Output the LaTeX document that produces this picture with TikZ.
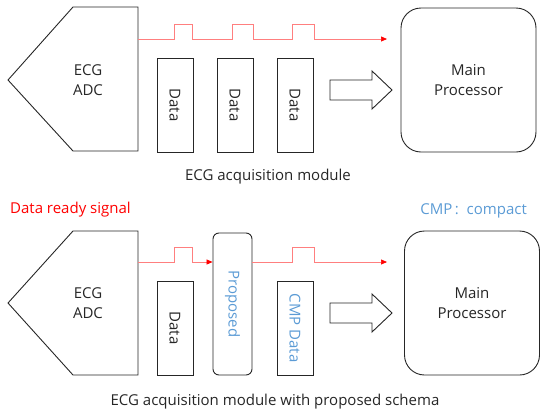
\documentclass[tikz,border=0pt]{standalone}
\usepackage{fontspec}
\setmainfont{Open Sans}
\usetikzlibrary{arrows.meta}
\definecolor{sigred}{HTML}{FF7F7F}
\definecolor{txtblue}{HTML}{5B9BD5}
\begin{document}
\begin{tikzpicture}[x=1pt,y=-1pt,
  outline/.style={draw=black!85,line width=0.9pt},
  lbl/.style={font=\fontsize{15}{20.5}\selectfont,align=center,inner sep=0pt,text=black!85},
  boxlbl/.style={font=\fontsize{15}{18}\selectfont,inner sep=0pt,rotate=-90,text=black!85},
  databox/.style={outline,minimum width=36pt,minimum height=94pt,inner sep=0pt},
  sig/.style={draw=sigred,line width=0.7pt},
  sigarrow/.style={sig,-{Triangle[length=6pt,width=5pt,fill=red,color=red]}},
  blockarrow/.style={outline,fill=white},
  proc/.style={outline,rounded corners=20pt,minimum width=135pt,minimum height=144pt,inner sep=0pt}]
\useasboundingbox (0,0) rectangle (550,413);

% ---------------- top ----------------
\draw[outline] (8,80) -- (73,7) -- (138,7) -- (138,151) -- (73,151) -- cycle;
\node[lbl] (adcA) at (88,80) {ECG\\ADC};
\coordinate (sA0) at (138,39);
\coordinate (sA1) at (387,39);
\draw[sigarrow] (sA0) -- (174,39) -- (174,24) -- (192,24) -- (192,39) -- (232,39) -- (232,24) -- (253,24) -- (253,39) -- (292,39) -- (292,24) -- (314,24) -- (314,39) -- (sA1);

\node[databox] (dA1) at (175,105) {};
\node[boxlbl] at (dA1.center) {Data};
\node[databox] (dA2) at (235,105) {};
\node[boxlbl] at (dA2.center) {Data};
\node[databox] (dA3) at (295,105) {};
\node[boxlbl] at (dA3.center) {Data};

\draw[blockarrow] (330,80) -- (372,80) -- (372,71) -- (392,90) -- (372,109) -- (372,100) -- (330,100) -- cycle;

\node[proc] (pA) at (468.5,80) {};
\node[lbl] at (pA.center) {Main\\Processor};

\node[lbl] (capA) at (268,177) {ECG acquisition module};

% ---------------- bottom ----------------
\node[lbl,text=red,anchor=west] (drs) at (10,210) {Data ready signal};
\node[lbl,text=txtblue,anchor=east] (cmp) at (527,211) {CMP\,:\ \ compact};

\draw[outline] (8,303) -- (73,231) -- (138,231) -- (138,375) -- (73,375) -- cycle;
\node[lbl] (adcB) at (88,303) {ECG\\ADC};

\node[outline,rounded corners=6pt,minimum width=39pt,minimum height=142pt,inner sep=0pt] (prop) at (232.5,304) {};
\node[boxlbl,text=txtblue] at (prop.center) {Proposed};

\coordinate (sB0) at (138,262);
\draw[sigarrow] (sB0) -- (174,262) -- (174,247) -- (192,247) -- (192,262) -- (prop.west |- 0,262);
\coordinate (sB1) at (387,262);
\draw[sigarrow] (prop.east |- 0,262) -- (292,262) -- (292,247) -- (314,247) -- (314,262) -- (sB1);

\node[databox] (dB1) at (175,328) {};
\node[boxlbl] at (dB1.center) {Data};
\node[databox] (dB2) at (295,328) {};
\node[boxlbl,text=txtblue] at (dB2.center) {CMP Data};

\draw[blockarrow] (330,303) -- (372,303) -- (372,294) -- (392,313) -- (372,332) -- (372,323) -- (330,323) -- cycle;

\node[proc] (pB) at (472,303) {};
\node[lbl] at (pB.center) {Main\\Processor};

\node[lbl] (capB) at (275,402) {ECG acquisition module with proposed schema};
\end{tikzpicture}
\end{document}
